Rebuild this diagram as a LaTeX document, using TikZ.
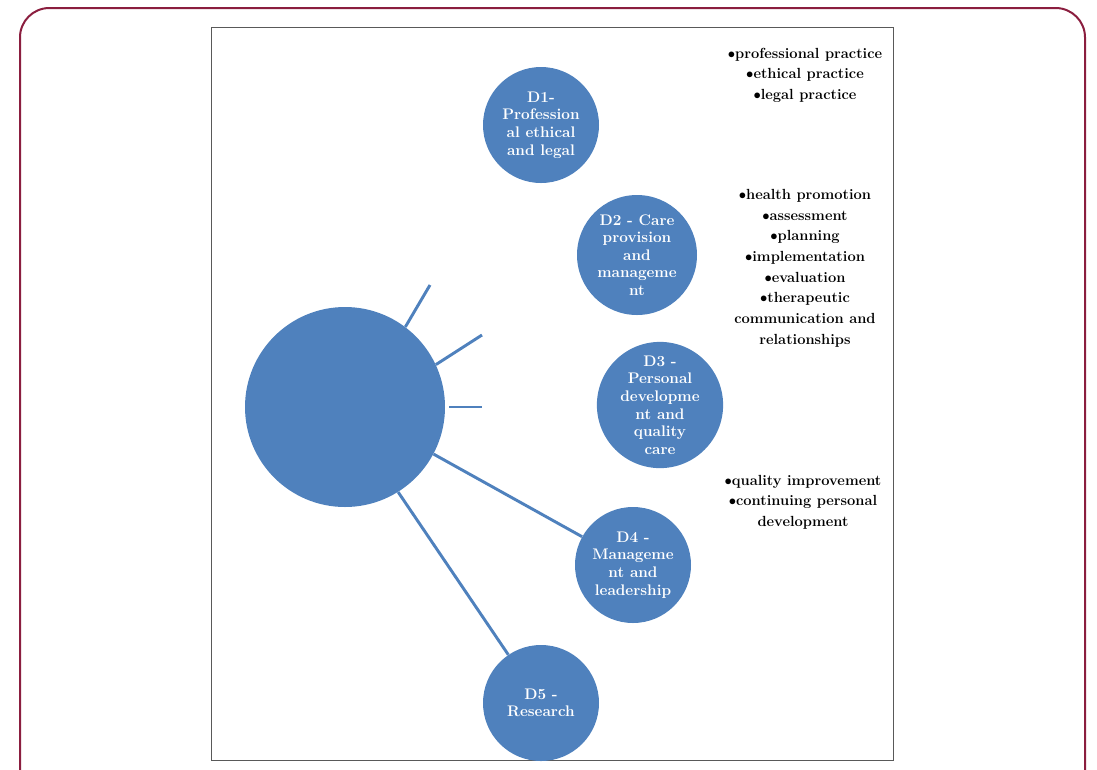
\documentclass[tikz,border=0pt]{standalone}
\begin{document}
\begin{tikzpicture}[x=0.75pt,y=-0.75pt,
  dom/.style={circle,fill=blu,text=white,font=\bfseries\fontsize{11.5}{13.2}\selectfont,align=center,inner sep=0pt},
  lst/.style={font=\bfseries\fontsize{11}{15.5}\selectfont,align=center},
  spoke/.style={draw=blu,line width=2.2pt}]
\definecolor{blu}{HTML}{4F81BD}
\definecolor{frame}{HTML}{8B1E3F}
\useasboundingbox (0,0) rectangle (1097,769);
\draw[frame,line width=1.5pt,rounded corners=22pt] (20,8) -- (1085,8) -- (1085,800) -- (20,800) -- cycle;
\draw[gray!70!black,line width=0.6pt] (211,27) rectangle (893,760);
\node[dom,minimum size=200pt*0.75] (c) at (345,407) {};
\node[dom,minimum size=116*0.75pt] (d1) at (541,125) {D1-\\Profession\\al ethical\\and legal};
\node[dom,minimum size=120*0.75pt] (d2) at (637,255) {D2 - Care\\provision\\and\\manageme\\nt};
\node[dom,minimum size=116*0.75pt] (d3) at (660,405) {D3 -\\Personal\\developme\\nt and\\quality\\care};
\node[dom,minimum size=116*0.75pt] (d4) at (633,565) {D4 -\\Manageme\\nt and\\leadership};
\node[dom,minimum size=116*0.75pt] (d5) at (541,703) {D5 -\\Research};
\coordinate (e1) at (430,285); \coordinate (e2) at (482,335); \coordinate (e3) at (482,407);
\draw[spoke] (c.53) -- (e1);
\draw[spoke] (c.25) -- (e2);
\draw[spoke] (c.0) ++(4,0) -- (e3);
\draw[spoke] (c.-28) -- (d4);
\draw[spoke] (c.-58) -- (d5);
\node[lst] (l1) at (805,75) {$\bullet$professional practice\\$\bullet$ethical practice\\$\bullet$legal practice};
\node[lst] (l2) at (805,268) {$\bullet$health promotion\\$\bullet$assessment\\$\bullet$planning\\$\bullet$implementation\\$\bullet$evaluation\\$\bullet$therapeutic\\communication and\\relationships};
\node[lst] (l3) at (803,502) {$\bullet$quality improvement\\$\bullet$continuing personal\\development};
\end{tikzpicture}
\end{document}
